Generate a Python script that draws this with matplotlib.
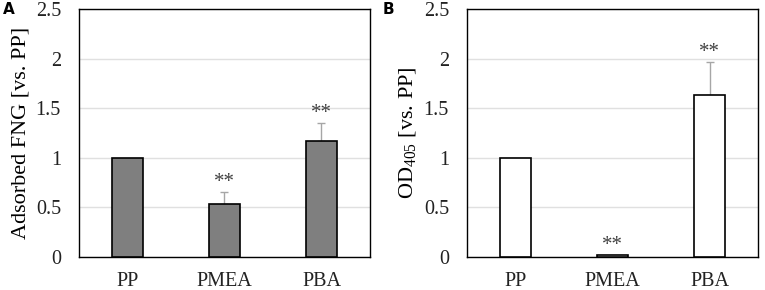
import numpy as np
import matplotlib
matplotlib.use("Agg")
import matplotlib.pyplot as plt

categories = ["PP", "PMEA", "PBA"]

# panel A: adsorbed fibrinogen relative to PP
fng_mean = [1.0, 0.53, 1.17]
fng_err = [0.0, 0.13, 0.18]
fng_sig = ["", "**", "**"]

# panel B: OD405 relative to PP
od_mean = [1.0, 0.02, 1.63]
od_err = [0.0, 0.0, 0.34]
od_sig = ["", "**", "**"]

yticks = [0, 0.5, 1, 1.5, 2, 2.5]
ytick_labels = ["0", "0.5", "1", "1.5", "2", "2.5"]

plt.rcParams["font.family"] = ["Liberation Serif", "DejaVu Serif"]
plt.rcParams["mathtext.fontset"] = "custom"
plt.rcParams["mathtext.rm"] = "Liberation Serif"
plt.rcParams["mathtext.it"] = "Liberation Serif:italic"

fig = plt.figure(figsize=(7.65, 2.9), dpi=100)
W, H = 765, 290


def draw_panel(rect, means, errs, sig, color, ylabel, letter, letter_x):
    l, t, r, b = rect
    ax = fig.add_axes([l / W, 1 - b / H, (r - l) / W, (b - t) / H])
    x = np.arange(len(categories))
    ax.bar(x, means, width=0.32, color=color, edgecolor="black", linewidth=1.2, zorder=3)
    for xi, m, e in zip(x, means, errs):
        if e > 0:
            ax.errorbar(xi, m, yerr=[[0], [e]], color="#a6a6a6", capsize=3,
                        elinewidth=1.0, capthick=1.0, zorder=2)
    for xi, m, e, s in zip(x, means, errs, sig):
        if s:
            ax.annotate(s, (xi, m + e), xytext=(0, 0), textcoords="offset points",
                        ha="center", va="bottom", fontsize=15, color="#404040")
    ax.set_xlim(-0.5, 2.5)
    ax.set_ylim(0, 2.5)
    ax.set_yticks(yticks)
    ax.set_yticklabels(ytick_labels)
    ax.set_xticks(x)
    ax.set_xticklabels(categories)
    ax.tick_params(axis="both", length=0, labelsize=14.5, labelcolor="#222222")
    ax.tick_params(axis="y", pad=13)
    ax.tick_params(axis="x", pad=11)
    ax.yaxis.grid(True, color="#e0e0e0", linewidth=1.0, zorder=0)
    ax.set_axisbelow(True)
    for sp in ax.spines.values():
        sp.set_color("black")
        sp.set_linewidth(1.0)
    ax.set_ylabel(ylabel, fontsize=16, labelpad=4)
    fig.text(letter_x / W, 1 - 10 / H, letter, fontsize=11, fontweight="bold",
             family="DejaVu Sans", ha="left", va="center")
    return ax


draw_panel((79, 9, 370, 257), fng_mean, fng_err, fng_sig, "#7f7f7f",
           "Adsorbed FNG [vs. PP]", "A", 3)
draw_panel((467, 9, 758, 257), od_mean, od_err, od_sig, "white",
           r"OD$_{\mathrm{405}}$ [vs. PP]", "B", 383)

fig.savefig("out.png", dpi=100)
